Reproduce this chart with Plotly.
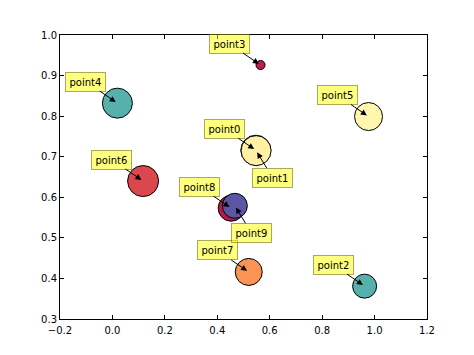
import plotly.graph_objects as go

labels = ["point0", "point1", "point2", "point3", "point4",
          "point5", "point6", "point7", "point8", "point9"]
x_vals = [0.547, 0.548, 0.962, 0.565, 0.019, 0.977, 0.117, 0.520, 0.453, 0.467]
y_vals = [0.716, 0.715, 0.381, 0.926, 0.832, 0.799, 0.640, 0.416, 0.573, 0.579]
color_vals = [0.44, 0.45, 0.83, 0.05, 0.83, 0.47, 0.12, 0.26, 0.04, 0.99]
size_vals = [30, 30, 24, 9, 30, 28, 31, 27, 26, 25]

x_ticks = [-0.2, 0.0, 0.2, 0.4, 0.6, 0.8, 1.0, 1.2]
y_ticks = [0.3, 0.4, 0.5, 0.6, 0.7, 0.8, 0.9, 1.0]

spectral = ["#9e0142", "#d53e4f", "#f46d43", "#fdae61", "#fee08b", "#ffffbf",
            "#e6f598", "#abdda4", "#66c2a5", "#3288bd", "#5e4fa2"]
colorscale = [[i / (len(spectral) - 1), c] for i, c in enumerate(spectral)]

# label placement: most labels up-left, a few down-right
below_right = {"point1", "point9"}
UL = (-31.5, -21.5)
LR = (16.5, 27.0)

fig = go.Figure()
fig.add_trace(go.Scatter(
    x=x_vals, y=y_vals, mode="markers",
    marker=dict(size=size_vals, color=color_vals, colorscale=colorscale,
                cmin=0, cmax=1, opacity=1,
                line=dict(color="black", width=1)),
    showlegend=False, hoverinfo="skip", cliponaxis=False,
))

annotations = []
for lab, xv, yv in zip(labels, x_vals, y_vals):
    ax, ay = LR if lab in below_right else UL
    annotations.append(dict(
        x=xv, y=yv, xref="x", yref="y", text=lab,
        showarrow=True, ax=ax, ay=ay, axref="pixel", ayref="pixel",
        arrowhead=2, arrowsize=1.2, arrowwidth=1, arrowcolor="black",
        standoff=2,
        bgcolor="rgba(255,255,0,0.5)", bordercolor="rgba(100,100,0,0.55)",
        borderwidth=1, borderpad=3.5,
        font=dict(family="DejaVu Sans", size=10, color="black"),
    ))

axis_common = dict(
    showline=True, linecolor="black", linewidth=1, mirror="ticks",
    ticks="inside", ticklen=4, tickcolor="black", tickwidth=1,
    showgrid=False, zeroline=False,
    tickfont=dict(family="DejaVu Sans", size=10, color="black"),
    tickformat=".1f",
)

fig.update_layout(
    width=474, height=355,
    margin=dict(l=52, r=55, t=27, b=44),
    paper_bgcolor="white", plot_bgcolor="white",
    xaxis=dict(range=[-0.2, 1.2], tickvals=x_ticks, ticklabelstandoff=2,
               **axis_common),
    yaxis=dict(range=[0.3, 1.0], tickvals=y_ticks, **axis_common),
    annotations=annotations,
    showlegend=False,
)

fig.write_html("out.html")
